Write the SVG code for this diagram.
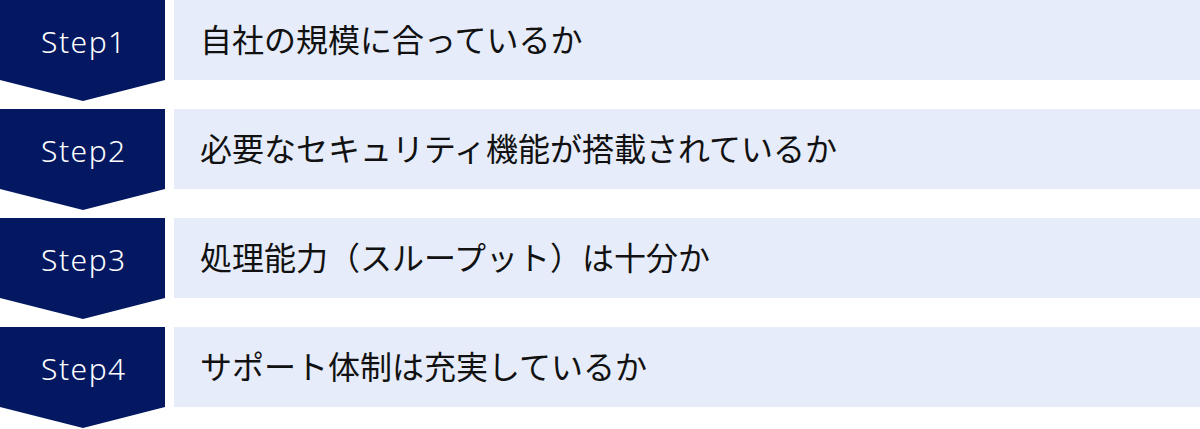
<svg xmlns="http://www.w3.org/2000/svg" width="1200" height="429" viewBox="0 0 1200 429">
  <style>
    .step { fill: #041862; }
    .bar { fill: #e6ecf9; }
    .st { font-family: "Noto Sans", "Noto Sans CJK JP", sans-serif; font-size: 30px; font-weight: 300; letter-spacing: 1.5px; fill: #ffffff; }
    .lbl { font-family: "Noto Sans CJK JP", "Noto Sans", sans-serif; font-size: 32px; fill: #111111; }
  </style>
  <defs>
    <polygon id="chev" points="0,0 165,0 165,80 83,101 0,80"/>
  </defs>
  <g id="step1">
    <use href="#chev" class="step" x="0" y="0"/>
    <rect class="bar" x="174" y="0" width="1026" height="80"/>
    <text class="st" x="41" y="53">Step1</text>
    <text class="lbl" x="200" y="52">自社の規模に合っているか</text>
  </g>
  <g id="step2">
    <use href="#chev" class="step" x="0" y="109"/>
    <rect class="bar" x="174" y="109" width="1026" height="80"/>
    <text class="st" x="41" y="162">Step2</text>
    <text class="lbl" x="200" y="161">必要なセキュリティ機能が搭載されているか</text>
  </g>
  <g id="step3">
    <use href="#chev" class="step" x="0" y="218"/>
    <rect class="bar" x="174" y="218" width="1026" height="80"/>
    <text class="st" x="41" y="271">Step3</text>
    <text class="lbl" x="200" y="270">処理能力（スループット）は十分か</text>
  </g>
  <g id="step4">
    <use href="#chev" class="step" x="0" y="327"/>
    <rect class="bar" x="174" y="327" width="1026" height="80"/>
    <text class="st" x="41" y="380">Step4</text>
    <text class="lbl" x="200" y="379">サポート体制は充実しているか</text>
  </g>
  <g id="connectors"></g>
</svg>
